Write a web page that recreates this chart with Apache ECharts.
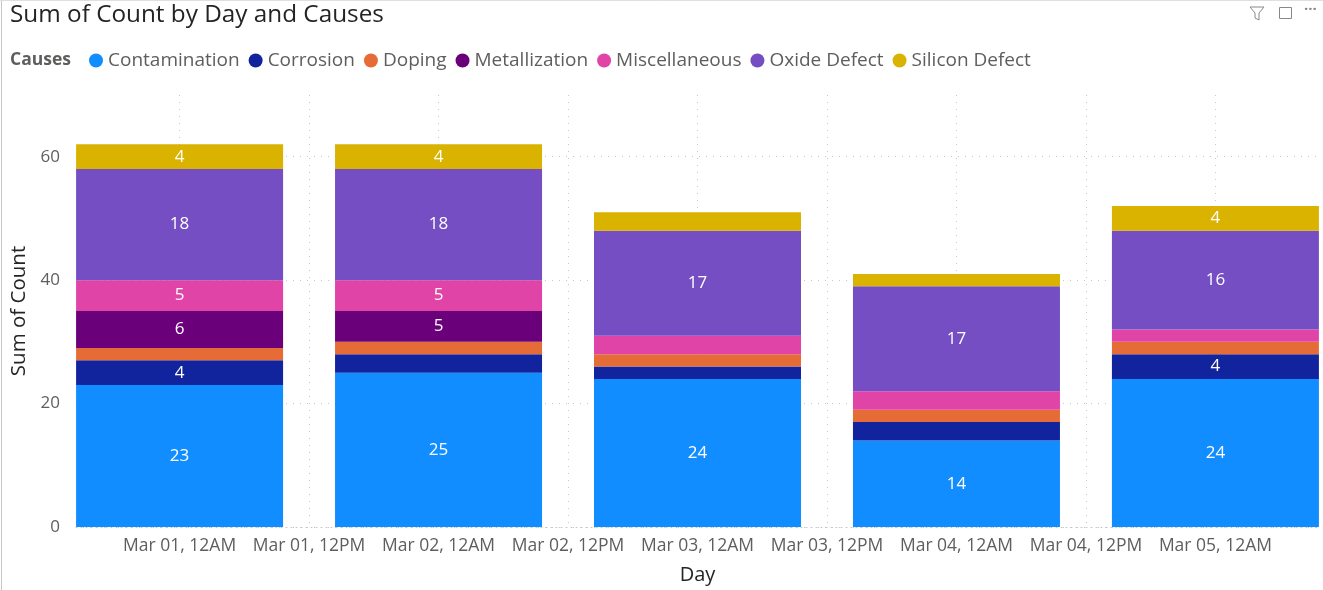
<!DOCTYPE html>
<html>
<head>
<meta charset="utf-8">
<script src="https://cdn.jsdelivr.net/npm/echarts@6/dist/echarts.min.js"></script>
<style>
  html, body { margin: 0; padding: 0; background: #fff; }
  #chart { width: 1323px; height: 590px; }
</style>
</head>
<body>
<div id="chart"></div>
<script>
// day positions in hours since Mar 01 00:00, stack order bottom -> top
const dayHours = [0, 24, 48, 72, 96];
const causes = ["Contamination", "Corrosion", "Doping", "Metallization", "Miscellaneous", "Oxide Defect", "Silicon Defect"];
const colors = ["#118DFF", "#12239E", "#E66C37", "#6B007B", "#E044A7", "#744EC2", "#D9B300"];

const contamination = [23, 25, 24, 14, 24];
const corrosion = [4, 3, 2, 3, 4];
const doping = [2, 2, 2, 2, 2];
const metallization = [6, 5, 0, 0, 0];
const miscellaneous = [5, 5, 3, 3, 2];
const oxideDefect = [18, 18, 17, 17, 16];
const siliconDefect = [4, 4, 3, 2, 4];
const seriesValues = [contamination, corrosion, doping, metallization, miscellaneous, oxideDefect, siliconDefect];

const xTicks = [0, 12, 24, 36, 48, 60, 72, 84, 96];
const xTickLabels = ["Mar 01, 12AM", "Mar 01, 12PM", "Mar 02, 12AM", "Mar 02, 12PM", "Mar 03, 12AM",
  "Mar 03, 12PM", "Mar 04, 12AM", "Mar 04, 12PM", "Mar 05, 12AM"];
const yTicks = [0, 20, 40, 60];

const font = "'Open Sans', 'Noto Sans', sans-serif";

const chart = echarts.init(document.getElementById("chart"));

const option = {
  animation: false,
  textStyle: { fontFamily: font },
  title: [
    {
      text: "Sum of Count by Day and Causes",
      left: 10, top: 3, padding: 0,
      textStyle: { fontFamily: font, fontSize: 24.3, fontWeight: "normal", color: "#252423" }
    },
    {
      text: "Causes",
      left: 10, top: 51, padding: 0,
      textStyle: { fontFamily: font, fontSize: 17.5, fontWeight: "bold", color: "#605E5C" }
    }
  ],
  legend: {
    data: causes,
    left: 89, top: 51, padding: 0,
    icon: "circle",
    itemWidth: 14, itemHeight: 14,
    itemGap: 9,
    textStyle: { fontFamily: font, fontSize: 19, color: "#605E5C" }
  },
  grid: { left: 76, right: 4, top: 95, bottom: 63, containLabel: false, outerBoundsMode: "none" },
  xAxis: {
    type: "value",
    min: dayHours[0] - 9.6,
    max: dayHours[4] + 9.6,
    name: "Day",
    nameLocation: "middle",
    nameGap: 38,
    nameTextStyle: { fontFamily: font, fontSize: 20, color: "#252423" },
    axisLine: { show: true, lineStyle: { color: "#C8C6C4", type: [1, 4], width: 1 } },
    axisTick: { show: false, customValues: xTicks },
    axisLabel: {
      customValues: xTicks,
      formatter: v => xTickLabels[xTicks.indexOf(v)],
      fontFamily: font, fontSize: 17.5, color: "#605E5C", margin: 10
    },
    splitLine: { show: true, lineStyle: { color: "#C8C6C4", type: [1, 6], width: 1 } }
  },
  yAxis: {
    type: "value",
    min: 0, max: 70,
    name: "Sum of Count",
    nameLocation: "middle",
    nameGap: 42,
    nameTextStyle: { fontFamily: font, fontSize: 20.5, color: "#252423" },
    axisLine: { show: false },
    axisTick: { show: false, customValues: yTicks },
    axisLabel: { customValues: yTicks, fontFamily: font, fontSize: 17, color: "#605E5C", margin: 16 },
    splitLine: { show: true, lineStyle: { color: "#C8C6C4", type: [1, 6], width: 1 } }
  },
  graphic: [
    { type: "line", shape: { x1: 1.5, y1: 0, x2: 1.5, y2: 590 }, style: { stroke: "#C8C6C4", lineWidth: 1 } },
    { type: "line", shape: { x1: 0, y1: 0.5, x2: 1323, y2: 0.5 }, style: { stroke: "#E1DFDD", lineWidth: 1 } },
    { type: "polyline", shape: { points: [[1250, 7], [1264, 7], [1259, 13], [1259, 20], [1255, 18], [1255, 13], [1250, 7]] },
      style: { stroke: "#8A8886", fill: null, lineWidth: 1 } },
    { type: "rect", shape: { x: 1279.5, y: 7.5, width: 12, height: 11 }, style: { stroke: "#8A8886", fill: null, lineWidth: 1 } },
    { type: "text", x: 1304, y: 2, style: { text: "···", font: "bold 15px " + font, fill: "#8A8886" } }
  ],
  series: causes.map((name, i) => ({
    name: name,
    type: "bar",
    stack: "total",
    barWidth: 207,
    encode: { x: 1, y: 0 },
    itemStyle: { color: colors[i] },
    label: {
      show: true,
      position: "inside",
      color: "#FFFFFF",
      fontFamily: font,
      fontSize: 17,
      formatter: p => (p.value[0] >= 4 ? String(p.value[0]) : "")
    },
    data: dayHours.map((h, j) => [seriesValues[i][j], h])
  }))
};

chart.setOption(option);
</script>
</body>
</html>
